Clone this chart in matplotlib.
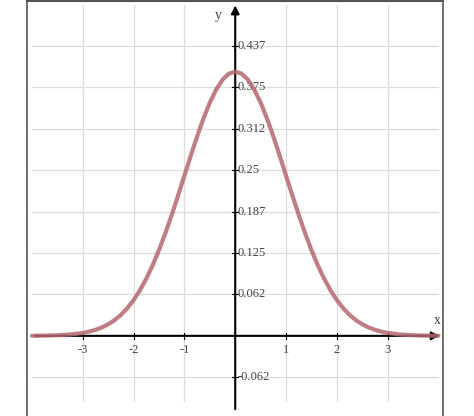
import matplotlib.pyplot as plt

plt.rcParams['font.family'] = ['Liberation Serif', 'DejaVu Serif']

# curve points (standard normal density, right half; mirrored)
half_x = [0.0, 0.125, 0.25, 0.375, 0.5, 0.625, 0.75, 0.875, 1.0, 1.125, 1.25,
          1.375, 1.5, 1.625, 1.75, 1.875, 2.0, 2.125, 2.25, 2.375, 2.5, 2.625,
          2.75, 2.875, 3.0, 3.25, 3.5, 3.75, 4.0]
half_y = [0.3989, 0.3958, 0.3867, 0.3718, 0.3521, 0.3282, 0.3011, 0.2721, 0.2420,
          0.2119, 0.1826, 0.1550, 0.1295, 0.1066, 0.0863, 0.0689, 0.0540, 0.0417,
          0.0317, 0.0237, 0.0175, 0.0127, 0.0091, 0.0064, 0.0044, 0.0020, 0.0009,
          0.0004, 0.0001]
curve_x = [-v for v in half_x[::-1]] + half_x[1:]
curve_y = half_y[::-1] + half_y[1:]
x_ticks = [-3, -2, -1, 1, 2, 3]
y_ticks = [-0.0625, 0.0625, 0.125, 0.1875, 0.25, 0.3125, 0.375, 0.4375]
y_labels = ['-0.062', '0.062', '0.125', '0.187', '0.25', '0.312', '0.375', '0.437']

fig = plt.figure(figsize=(4.74, 4.16), dpi=100)
ax = fig.add_axes([0, 0, 1, 1])
ax.set_xlim(-4.63, 4.70)
ax.set_ylim(-0.121, 0.507)
ax.axis('off')

# frame
ax.plot([-4.09, -4.09], [-0.13, 0.506], color='#555555', lw=1.2)
ax.plot([4.09, 4.09], [-0.13, 0.506], color='#555555', lw=1.2)
ax.plot([-4.09, 4.09], [0.506, 0.506], color='#555555', lw=1.5)

# grid
grid_c = '#dddddd'
for t in x_ticks:
    ax.plot([t, t], [-0.098, 0.5], color=grid_c, lw=0.9, zorder=1)
for t in y_ticks:
    ax.plot([-4.0, 4.0], [t, t], color=grid_c, lw=0.9, zorder=1)

# axes with arrows
ax.annotate('', xy=(4.08, 0), xytext=(-4.0, 0),
            arrowprops=dict(arrowstyle='-|>', color='black', lw=1.5, mutation_scale=12), zorder=3)
ax.annotate('', xy=(0, 0.503), xytext=(0, -0.115),
            arrowprops=dict(arrowstyle='-|>', color='black', lw=1.5, mutation_scale=12), zorder=3)

# ticks and labels
for t in x_ticks:
    ax.plot([t, t], [-0.005, 0.005], color='black', lw=0.8, zorder=3)
    ax.text(t, -0.012, str(t), ha='center', va='top', fontsize=9, color='#444444')
for t, lab in zip(y_ticks, y_labels):
    ax.plot([-0.06, 0.06], [t, t], color='black', lw=0.8, zorder=3)
    ax.text(0.04, t, lab, ha='left', va='center', fontsize=9, color='#444444', zorder=4)
ax.text(3.92, 0.018, 'x', fontsize=10, color='#444444')
ax.text(-0.4, 0.478, 'y', fontsize=10, color='#444444')

ax.plot(curve_x, curve_y, color='#b5686e', lw=3, alpha=0.85, zorder=5,
        solid_capstyle='round', solid_joinstyle='round')

fig.savefig('out.png', dpi=100)
